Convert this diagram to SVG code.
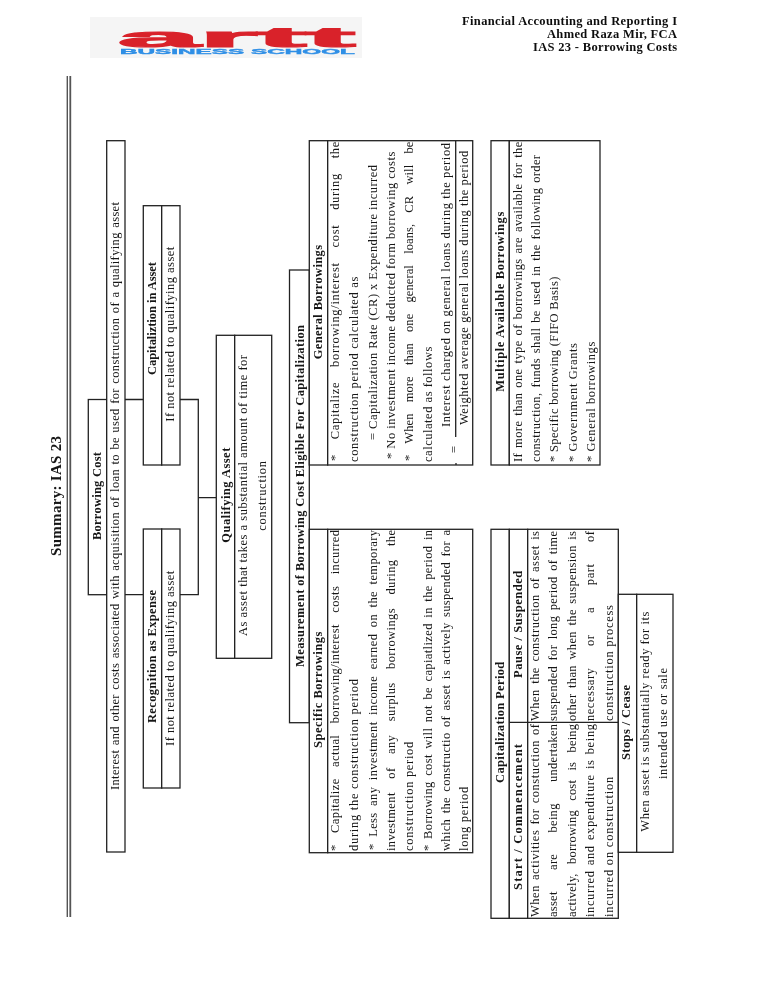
<svg xmlns="http://www.w3.org/2000/svg" width="768" height="993" viewBox="0 0 768 993">
<style>
text{font-family:"Liberation Serif","Times New Roman",serif;font-size:12.5px;fill:#161616}
.b{font-weight:700}
.box{fill:#fff;stroke:#222;stroke-width:1.3}
.ln{fill:none;stroke:#222;stroke-width:1.3}
.h{font-weight:700;font-size:12.5px;fill:#111}
</style>
<defs><filter id="soft" x="0" y="0" width="100%" height="100%"><feGaussianBlur stdDeviation="0.3"/></filter></defs>
<rect width="768" height="993" fill="#fff"/>
<g filter="url(#soft)">
<g id="logo">
<rect x="90" y="17" width="272" height="41" fill="#f5f5f5"/>
<text x="118" y="46.5" textLength="237" lengthAdjust="spacingAndGlyphs" style="font-family:'Liberation Sans',sans-serif;font-size:28px;font-weight:700;fill:#d9222b;stroke:#d9222b;stroke-width:1.2">artt</text>
<text x="120" y="53.8" textLength="235" lengthAdjust="spacingAndGlyphs" style="font-family:'Liberation Sans',sans-serif;font-size:7.8px;font-weight:700;fill:#2f8fe6;stroke:#2f8fe6;stroke-width:0.4">BUSINESS SCHOOL</text>
</g>
<g id="page-header">
<text class="h" x="462" y="25" textLength="215">Financial Accounting and Reporting I</text>
<text class="h" x="547" y="38" textLength="130">Ahmed Raza Mir, FCA</text>
<text class="h" x="533" y="51" textLength="144">IAS 23 - Borrowing Costs</text>
</g>
<g id="rule" fill="none" stroke="#555">
<path d="M67.3 76V917" stroke-width="1.4"/>
<path d="M70.3 76V917" stroke-width="1.8"/>
</g>
<g id="title" transform="rotate(-90)">
<text class="b" x="-556" y="61" textLength="120" style="font-size:15px">Summary: IAS 23</text>
</g>
<g id="connectors">
<path class="ln" d="M125 399.5H143.3M125 594.7H143.3"/>
<path class="ln" d="M180 399.5H198.3V594.7H180M198.3 497.7H216.3"/>
</g>
<g id="borrowing-cost">
<rect class="box" x="88.3" y="399.5" width="18.4" height="195.2"/>
<rect class="box" x="106.7" y="140.7" width="18.3" height="711.3"/>
<g transform="rotate(-90)">
<text class="b" x="-540" y="100.7" textLength="88">Borrowing Cost</text>
<text x="-790" y="119.3" textLength="588" word-spacing="1">Interest and other costs associated with acquisition of loan to be used for construction of a qualifying asset</text>
</g>
</g>
<g id="capitalization-in-asset">
<rect class="box" x="143.3" y="205.7" width="18.4" height="259.3"/>
<rect class="box" x="161.7" y="205.7" width="18.3" height="259.3"/>
<g transform="rotate(-90)">
<text class="b" x="-375" y="156" textLength="113">Capitaliztion in Asset</text>
<text x="-421.7" y="174" textLength="175">If not related to qualifying asset</text>
</g>
</g>
<g id="recognition-as-expense">
<rect class="box" x="143.3" y="529" width="18.4" height="259"/>
<rect class="box" x="161.7" y="529" width="18.3" height="259"/>
<g transform="rotate(-90)">
<text class="b" x="-723" y="156" textLength="133">Recognition as Expense</text>
<text x="-746" y="174" textLength="175.300">If not related to qualifying asset</text>
</g>
</g>
<g id="qualifying-asset">
<rect class="box" x="216.3" y="335.3" width="18.4" height="323"/>
<rect class="box" x="234.7" y="335.3" width="37" height="323"/>
<g transform="rotate(-90)">
<text class="b" x="-542.700" y="230" textLength="95">Qualifying Asset</text>
<text x="-636" y="247.3" textLength="281">As asset that takes a substantial amount of time for</text>
<text x="-530.700" y="266" textLength="69.700">construction</text>
</g>
</g>
<g id="measurement">
<rect class="box" x="289.5" y="270" width="19.800" height="452.700"/>
<g transform="rotate(-90)">
<text class="b" x="-667" y="304" textLength="342">Measurement of Borrowing Cost Eligible For Capitalization</text>
</g>
</g>
<g id="general-borrowings">
<rect class="box" x="309.3" y="140.7" width="18.4" height="324.3"/>
<rect class="box" x="327.7" y="140.7" width="145" height="324.3"/>
<path class="ln" d="M455.700 141V437M456 463V465"/>
<g transform="rotate(-90)">
<text class="b" x="-359.3" y="321.7" textLength="114.300">General Borrowings</text>
<text x="-461" y="339.3" textLength="319.300" word-spacing="11">* Capitalize borrowing/interest cost during the</text>
<text x="-462" y="358" textLength="185.300">construction period calculated as</text>
<text x="-440" y="376.5" textLength="275">= Capitalization Rate (CR) x Expenditure incurred</text>
<text x="-459" y="395" textLength="307.300">* No investment income deducted form borrowing costs</text>
<text x="-461" y="413" textLength="319.300" word-spacing="8">* When more than one general loans, CR will be</text>
<text x="-462" y="431.700" textLength="115.300">calculated as follows</text>
<text x="-427" y="450" textLength="284">Interest charged on general loans during the period</text>
<text x="-425" y="468" textLength="274.300">Weighted average general loans during the period</text>
<text x="-453" y="457.5" textLength="6">=</text>
</g>
</g>
<g id="specific-borrowings">
<rect class="box" x="309.3" y="529.3" width="18.4" height="323.4"/>
<rect class="box" x="327.7" y="529.3" width="145" height="323.4"/>
<g transform="rotate(-90)">
<text class="b" x="-748" y="321.7" textLength="116.300">Specific Borrowings</text>
<text x="-851" y="339.3" textLength="321" word-spacing="8">* Capitalize actual borrowing/interest costs incurred</text>
<text x="-851" y="358" textLength="172">during the construction period</text>
<text x="-850" y="376.5" textLength="320" word-spacing="3">* Less any investment income earned on the temporary</text>
<text x="-851" y="395" textLength="321" word-spacing="10">investment of any surplus borrowings during the</text>
<text x="-851" y="413" textLength="109.300">construction period</text>
<text x="-851" y="431.700" textLength="321" word-spacing="2">* Borrowing cost will not be capiatlized in the period in</text>
<text x="-851" y="450" textLength="321" word-spacing="2">which the constructio of asset is actively suspended for a</text>
<text x="-851" y="468" textLength="64.300">long period</text>
</g>
</g>
<g id="multiple-available-borrowings">
<rect class="box" x="491" y="140.7" width="18.3" height="324.3"/>
<rect class="box" x="509.3" y="140.7" width="90.7" height="324.3"/>
<g transform="rotate(-90)">
<text class="b" x="-391.700" y="504" textLength="180">Multiple Available Borrowings</text>
<text x="-462" y="521.7" textLength="320.300" word-spacing="1.500">If more than one type of borrowings are available for the</text>
<text x="-462" y="540" textLength="307" word-spacing="1.500">construction, funds shall be used in the following order</text>
<text x="-462" y="558.3" textLength="185.300">* Specific borrowing (FIFO Basis)</text>
<text x="-462" y="576.7" textLength="119">* Government Grants</text>
<text x="-462" y="595" textLength="120.300">* General borrowings</text>
</g>
</g>
<g id="capitalization-period">
<rect class="box" x="491" y="529.3" width="18.3" height="389"/>
<rect class="box" x="509.3" y="529.3" width="18.4" height="389"/>
<rect class="box" x="527.7" y="529.3" width="90.6" height="389"/>
<path class="ln" d="M509.3 722.3H618.3"/>
<g transform="rotate(-90)">
<text class="b" x="-783" y="504" textLength="121.300">Capitalization Period</text>
<text class="b" x="-678" y="522" textLength="107.300">Pause / Suspended</text>
<text class="b" x="-890" y="522" textLength="146">Start / Commencement</text>
<text x="-917" y="538.7" textLength="193" word-spacing="1.500">When activities for constuction of</text>
<text x="-917" y="557.3" textLength="193" word-spacing="18">asset are being undertaken</text>
<text x="-917" y="575.700" textLength="193" word-spacing="6">actively, borrowing cost is being</text>
<text x="-917" y="594" textLength="193" word-spacing="1.500">incurred and expenditure is being</text>
<text x="-917" y="612.700" textLength="140.300">incurred on construction</text>
<text x="-721" y="538.7" textLength="190" word-spacing="2">When the construction of asset is</text>
<text x="-721" y="557.3" textLength="190" word-spacing="2">suspended for long period of time</text>
<text x="-721" y="575.700" textLength="190" word-spacing="2">other than when the suspension is</text>
<text x="-721" y="594" textLength="190" word-spacing="18">necessary or a part of</text>
<text x="-721" y="612.700" textLength="116">construction process</text>
</g>
</g>
<g id="stops-cease">
<rect class="box" x="618.3" y="594.3" width="18.4" height="258"/>
<rect class="box" x="636.7" y="594.3" width="36.3" height="258"/>
<g transform="rotate(-90)">
<text class="b" x="-760" y="630" textLength="75">Stops / Cease</text>
<text x="-831.700" y="648.5" textLength="220">When asset is substantially ready for its</text>
<text x="-779" y="667" textLength="111">intended use or sale</text>
</g>
</g>
</g>
</svg>
